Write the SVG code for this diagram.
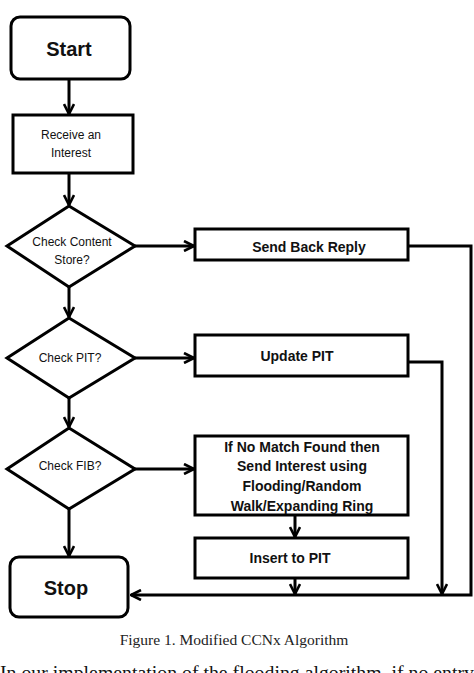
<svg xmlns="http://www.w3.org/2000/svg" width="474" height="673" viewBox="0 0 474 673">
<defs>
<style>
.shape{fill:#fff;stroke:#000;stroke-width:3}
.line{fill:none;stroke:#000;stroke-width:3}
.big{font-family:"Liberation Sans",Arial,sans-serif;font-weight:bold;font-size:20px;fill:#111;text-anchor:middle}
.box{font-family:"Liberation Sans",Arial,sans-serif;font-weight:bold;font-size:14px;fill:#111;text-anchor:middle}
.small{font-family:"Liberation Sans",Arial,sans-serif;font-size:12px;fill:#111;text-anchor:middle}
.cap{font-family:"Liberation Serif","Times New Roman",serif;font-size:15.5px;fill:#222;text-anchor:middle}
.body{font-family:"Liberation Serif","Times New Roman",serif;font-size:18px;fill:#111}
</style>
<marker id="arr" viewBox="0 0 12 12" refX="11" refY="6" markerWidth="12" markerHeight="12" markerUnits="userSpaceOnUse" orient="auto">
<path d="M1,1 L11,6 L1,11" fill="none" stroke="#000" stroke-width="2.6"/>
</marker>
</defs>
<rect width="474" height="673" fill="#fff"/>

<g id="connectors">
<line class="line" x1="69" y1="79" x2="69" y2="114" marker-end="url(#arr)"/>
<line class="line" x1="69" y1="173" x2="69" y2="205" marker-end="url(#arr)"/>
<line class="line" x1="135" y1="246" x2="194" y2="246" marker-end="url(#arr)"/>
<line class="line" x1="69" y1="287" x2="69" y2="317" marker-end="url(#arr)"/>
<line class="line" x1="135" y1="358" x2="194" y2="358" marker-end="url(#arr)"/>
<line class="line" x1="69" y1="398" x2="69" y2="427" marker-end="url(#arr)"/>
<line class="line" x1="135" y1="469" x2="194" y2="469" marker-end="url(#arr)"/>
<line class="line" x1="69" y1="509" x2="69" y2="556" marker-end="url(#arr)"/>
<line class="line" x1="295" y1="515" x2="295" y2="537" marker-end="url(#arr)"/>
<line class="line" x1="295" y1="578" x2="295" y2="594" marker-end="url(#arr)"/>
<polyline class="line" points="408,246 471,246 471,595 131,595" marker-end="url(#arr)"/>
<polyline class="line" points="408,362 442,362 442,594" marker-end="url(#arr)"/>
</g>

<g id="start">
<rect class="shape" x="11" y="17" width="119" height="62" rx="9"/>
<text class="big" x="69" y="56">Start</text>
</g>

<g id="receive">
<rect class="shape" x="13" y="115" width="120" height="58"/>
<text class="small" x="71" y="139">Receive an</text>
<text class="small" x="71" y="157">Interest</text>
</g>

<g id="check-cs">
<polygon class="shape" points="69,206 135,246 69,287 7,246"/>
<text class="small" x="72" y="246">Check Content</text>
<text class="small" x="72" y="264">Store?</text>
</g>

<g id="send-back">
<rect class="shape" x="195" y="229" width="213" height="31"/>
<text class="box" x="309" y="252">Send Back Reply</text>
</g>

<g id="check-pit">
<polygon class="shape" points="69,318 135,358 69,398 7,358"/>
<text class="small" x="70" y="362">Check  PIT?</text>
</g>

<g id="update-pit">
<rect class="shape" x="195" y="335" width="213" height="41"/>
<text class="box" x="297" y="361">Update PIT</text>
</g>

<g id="check-fib">
<polygon class="shape" points="69,428 135,469 69,509 7,469"/>
<text class="small" x="70" y="470">Check  FIB?</text>
</g>

<g id="send-interest">
<rect class="shape" x="195" y="436" width="213" height="79"/>
<text class="box" x="302" y="452">If No Match Found then</text>
<text class="box" x="302" y="471">Send  Interest using</text>
<text class="box" x="302" y="491">Flooding/Random</text>
<text class="box" x="302" y="511">Walk/Expanding Ring</text>
</g>

<g id="insert-pit">
<rect class="shape" x="195" y="538" width="213" height="40"/>
<text class="box" x="290" y="563">Insert to PIT</text>
</g>

<g id="stop">
<rect class="shape" x="10" y="557" width="118" height="60" rx="9"/>
<text class="big" x="66" y="595">Stop</text>
</g>

<text class="cap" x="234" y="645">Figure 1. Modified CCNx Algorithm</text>
<text class="body" x="0" y="679" textLength="474" lengthAdjust="spacingAndGlyphs">In our implementation of the flooding algorithm, if no entry</text>
</svg>
